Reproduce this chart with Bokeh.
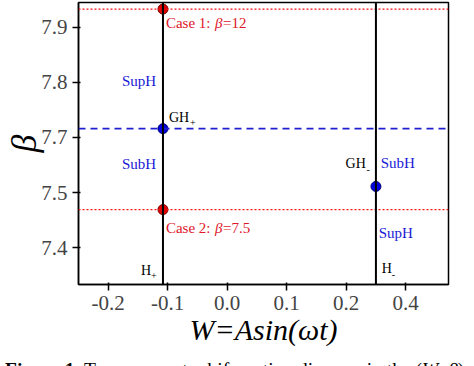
from bokeh.plotting import figure
from bokeh.models import FixedTicker, Span, Div, LinearAxis, CustomJSTickFormatter
from bokeh.layouts import column
from bokeh.core.properties import value
from bokeh.embed import file_html
from bokeh.resources import INLINE

# ---- data ----
x_tick_values = [-0.2, -0.1, 0.0, 0.1, 0.2, 0.3]
x_tick_labels = ["-0.2", "-0.1", "0.0", "0.1", "0.2", "0.4"]
y_tick_values = [7.5, 7.6, 7.7, 7.8, 7.9]
y_tick_labels = ["7.4", "7.5", "7.7", "7.8", "7.9"]

hopf_w = [-0.108, 0.25]          # vertical Hopf branches H+ and H-
case_beta = [7.933, 7.569]       # red dotted case lines
gh_beta = 7.716                  # blue dashed line through GH+

red_pts_w = [-0.108, -0.108]
red_pts_b = [7.933, 7.569]
blue_pts_w = [-0.108, 0.25]
blue_pts_b = [7.716, 7.611]

X_RANGE = (-0.25, 0.372)
Y_RANGE = (7.433, 7.945)

SERIF = "Liberation Serif"
RED_TXT = "#e0162b"
BLUE_TXT = "#1a1ad6"

FMT_CODE = """
let best = 0; let bd = Infinity;
for (let i = 0; i < vals.length; i++) {
  const d = Math.abs(vals[i] - tick);
  if (d < bd) { bd = d; best = i; }
}
return labs[best];
"""

p = figure(width=474, height=354, x_range=X_RANGE, y_range=Y_RANGE,
           output_backend="svg", toolbar_location=None,
           x_axis_location=None, y_axis_location=None,
           min_border_left=78, min_border_right=26,
           min_border_top=2, min_border_bottom=70)
p.xgrid.visible = False
p.ygrid.visible = False
p.outline_line_color = "black"
p.outline_line_width = 1.5

xax = LinearAxis(
    ticker=FixedTicker(ticks=x_tick_values),
    formatter=CustomJSTickFormatter(args=dict(vals=x_tick_values, labs=x_tick_labels),
                                    code=FMT_CODE),
    major_label_text_font=SERIF, major_label_text_font_style="normal",
    major_label_text_font_size="21px",
    axis_line_width=1.5, axis_line_color="black",
    major_tick_line_width=1.5, major_tick_line_color="black",
    axis_label="W=Asin(\u03c9t)", axis_label_text_font=SERIF,
    axis_label_text_font_style="italic", axis_label_text_font_size="30px",
    axis_label_text_color="black", axis_label_standoff=0)
yax = LinearAxis(
    ticker=FixedTicker(ticks=y_tick_values),
    formatter=CustomJSTickFormatter(args=dict(vals=y_tick_values, labs=y_tick_labels),
                                    code=FMT_CODE),
    major_label_text_font=SERIF, major_label_text_font_style="normal",
    major_label_text_font_size="21px",
    axis_line_width=1.5, axis_line_color="black",
    major_tick_line_width=1.5, major_tick_line_color="black",
    axis_label="\u03b2", axis_label_text_font=SERIF,
    axis_label_text_font_style="italic", axis_label_text_font_size="36px",
    axis_label_text_color="black", axis_label_standoff=-6)
p.add_layout(xax, "below")
p.add_layout(yax, "left")

# horizontal case lines and GH line
for b in case_beta:
    p.add_layout(Span(location=b, dimension="width", line_color="#ff1010",
                      line_width=1.2, line_dash="2 2"))
p.add_layout(Span(location=gh_beta, dimension="width", line_color="#1f1fd0",
                  line_width=1.6, line_dash="7 5"))
# vertical Hopf lines
for w in hopf_w:
    p.add_layout(Span(location=w, dimension="height", line_color="black",
                      line_width=2))

p.scatter(red_pts_w, red_pts_b, size=10, fill_color="#e00000",
          line_color="#7a0000", line_width=1)
p.scatter(blue_pts_w, blue_pts_b, size=10, fill_color="#0000e0",
          line_color="#00007a", line_width=1)


def txt(x, y, s, color="black", size="15px", style="normal", xo=0, yo=0):
    p.text(x=[x], y=[y], text=[s], text_font=value(SERIF),
           text_font_size=size, text_font_style=style, text_color=color,
           text_align="left", text_baseline="middle", x_offset=xo, y_offset=yo)


# case labels
txt(-0.103, 7.907, "Case 1: ", RED_TXT)
txt(-0.103, 7.907, "\u03b2", RED_TXT, style="italic", xo=49)
txt(-0.103, 7.907, "=12", RED_TXT, xo=57)
txt(-0.103, 7.536, "Case 2: ", RED_TXT)
txt(-0.103, 7.536, "\u03b2", RED_TXT, style="italic", xo=49)
txt(-0.103, 7.536, "=7.5", RED_TXT, xo=57)

# regions
txt(-0.177, 7.802, "SupH", BLUE_TXT)
txt(-0.177, 7.651, "SubH", BLUE_TXT)
txt(0.258, 7.653, "SubH", BLUE_TXT)
txt(0.2546, 7.527, "SupH", BLUE_TXT)

# points / branches
txt(-0.098, 7.736, "GH", size="14px")
txt(-0.098, 7.736, "+", size="10px", xo=21, yo=5)
txt(-0.145, 7.458, "H", size="14px")
txt(-0.145, 7.458, "+", size="10px", xo=10, yo=5)
txt(0.199, 7.653, "GH", size="14px")
txt(0.199, 7.653, "-", size="10px", xo=21, yo=6)
txt(0.2597, 7.462, "H", size="14px")
txt(0.2597, 7.462, "-", size="10px", xo=10, yo=6)

caption = Div(text="<b>Figure 1.</b> Two-parameter bifurcation diagram in the "
                   "(<i>W</i>, <i>\u03b2</i>)",
              width=474, height=30,
              styles={"font-family": "'Liberation Serif', serif",
                      "font-size": "19.5px", "color": "black",
                      "white-space": "nowrap", "line-height": "1.1"})

layout = column(p, caption, spacing=0)

html = file_html(layout, INLINE)
html = html.replace("<head>", "<head><style>html,body{margin:0;padding:0;}</style>", 1)
open("out.html", "w").write(html)
